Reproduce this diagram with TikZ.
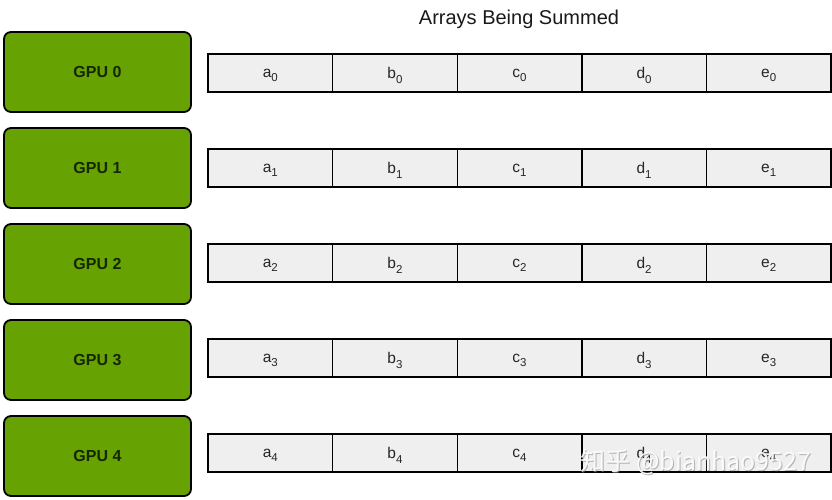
\documentclass[tikz,border=0pt]{standalone}
\usepackage{fontspec}
\setmainfont{Liberation Sans}
\newfontfamily\cjk{Noto Sans CJK SC}
\definecolor{gpugreen}{RGB}{102,163,2}
\definecolor{gputext}{RGB}{22,38,0}
\definecolor{cellgray}{RGB}{239,239,239}
\newcommand{\lbl}[2]{#1\smash{\raisebox{-0.3em}{\fontsize{11.5}{11.5}\selectfont #2}}}
\begin{document}
\begin{tikzpicture}[x=1pt,y=-1pt,
  gpu/.style={draw=black, line width=1.8pt, fill=gpugreen, rounded corners=7pt,
    minimum width=187pt, minimum height=80pt, inner sep=0pt,
    font=\fontsize{16}{18}\selectfont\bfseries, text=gputext},
  cell/.style={draw=black, line width=1.4pt, fill=cellgray,
    minimum width=124.6pt, minimum height=38pt, inner sep=0pt,
    font=\fontsize{15.5}{17}\selectfont, text=black!85},
  title/.style={font=\fontsize{20}{23}\selectfont, text=black!90},
  wm/.style={font=\cjk\fontsize{25}{28}\selectfont}]
\useasboundingbox (0,0) rectangle (832,499);
\node[title] (title) at (519,19) {Arrays Being Summed};
\foreach \i in {0,...,4}{
  \node[gpu] (gpu\i) at (97.5,{72+96*\i}) {GPU \i};
  \foreach \l [count=\j from 0] in {a,b,c,d,e}{
    \node[cell] (c\i\l) at ({208+124.6*(\j+0.5)},{73+95*\i}) {\lbl{\l}{\i}};
  }
}
\node[wm, text=black!45, opacity=0.6] (wmshadow) at (697,463.5) {知乎 @bianhao9527};
\node[wm, text=white, opacity=0.9] (wm) at (696,462.5) {知乎 @bianhao9527};
\end{tikzpicture}
\end{document}
